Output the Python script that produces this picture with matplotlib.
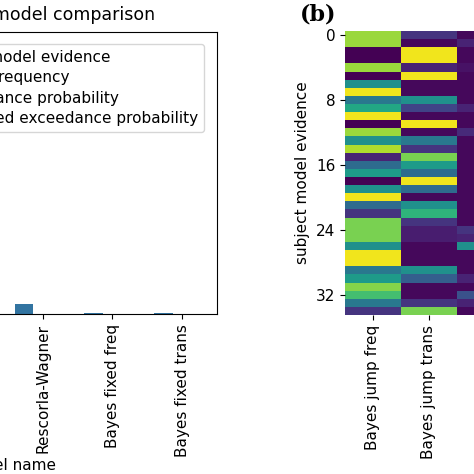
import numpy as np
import matplotlib
matplotlib.use("Agg")
import matplotlib.pyplot as plt

models = ["Bayes jump freq", "Bayes jump trans", "Rescorla-Wagner", "Bayes fixed freq", "Bayes fixed trans"]
model_frequency = [0.52, 0.40, 0.037, 0.004, 0.004]
exceedance_prob = [0.95, 0.05, 0.0, 0.0, 0.0]
protected_exceedance = [0.98, 0.0, 0.0, 0.0, 0.0]
legend_labels = ["mean model evidence", "model frequency", "exceedance probability", "protected exceedance probability"]

col_jump_freq = [0.85,0.85,0.0,0.0,0.85,0.0,0.5,0.98,0.4,0.6,0.98,0.0,0.85,0.5,0.88,0.1,0.35,0.55,0.0,0.5,
                 0.98,0.35,0.15,0.8,0.8,0.8,0.5,0.98,0.98,0.4,0.55,0.82,0.7,0.4,0.15]
col_jump_trans = [0.15,0.02,0.98,0.98,0.1,0.98,0.02,0.02,0.5,0.2,0.02,0.98,0.02,0.4,0.15,0.8,0.55,0.35,0.98,0.35,
                  0.02,0.5,0.65,0.15,0.08,0.08,0.02,0.02,0.02,0.5,0.3,0.02,0.02,0.15,0.8]
col_rw = [0.02,0.1,0.02,0.02,0.05,0.02,0.02,0.02,0.02,0.1,0.02,0.02,0.12,0.02,0.02,0.02,0.02,0.02,0.02,0.02,
          0.02,0.02,0.02,0.02,0.15,0.1,0.5,0.02,0.02,0.02,0.1,0.02,0.25,0.1,0.02]
col_fixed_freq = [0.02]*35
col_fixed_trans = [0.02]*35

W = H = 474
fig = plt.figure(figsize=(4.74, 4.74), dpi=100)

def px(l, t, r, b):
    return [l / W, 1 - b / H, (r - l) / W, (b - t) / H]

ax = fig.add_axes(px(-132, 32, 217, 314))
x = np.arange(len(models))
w = 0.8 / 3
ax.plot([], [], color="tab:gray", label=legend_labels[0])
ax.bar(x - w, model_frequency, w, color="#3274a1", label=legend_labels[1])
ax.bar(x, exceedance_prob, w, color="#e1812c", label=legend_labels[2])
ax.bar(x + w, protected_exceedance, w, color="#3a923a", label=legend_labels[3])
ax.set_xlim(-0.5, len(models) - 0.5)
ax.set_ylim(0, 1.05)
ax.set_xticks(x)
ax.set_xticklabels(models, rotation=90, fontsize=11)
ax.tick_params(axis="y", labelsize=11)
ax.legend(loc="upper right", fontsize=11, handlelength=1.5, labelspacing=0.35,
          bbox_to_anchor=(0.985, 0.985))
fig.text(155 / W, 1 - 15 / H, "Bayesian model comparison", ha="right", va="center", fontsize=12.5)
fig.text(56 / W, 1 - 466 / H, "model name", ha="right", va="center", fontsize=11)

ax2 = fig.add_axes(px(345, 31, 345 + 56 * 5, 315))
data = np.array([col_jump_freq, col_jump_trans, col_rw, col_fixed_freq, col_fixed_trans]).T
ax2.imshow(data, cmap="viridis", vmin=0, vmax=1, aspect="auto", interpolation="nearest")
ax2.set_xticks(np.arange(len(models)))
ax2.set_xticklabels(models, rotation=90, fontsize=11)
ax2.set_yticks([0, 8, 16, 24, 32])
ax2.tick_params(axis="y", labelsize=11)
ax2.set_ylabel("subject model evidence", fontsize=11)
for s in ax2.spines.values():
    s.set_visible(False)
fig.text(300 / W, 1 - 15 / H, "(b)", fontsize=16, fontweight="bold", family="DejaVu Serif", ha="left", va="center")

fig.savefig("out.png", dpi=100)
